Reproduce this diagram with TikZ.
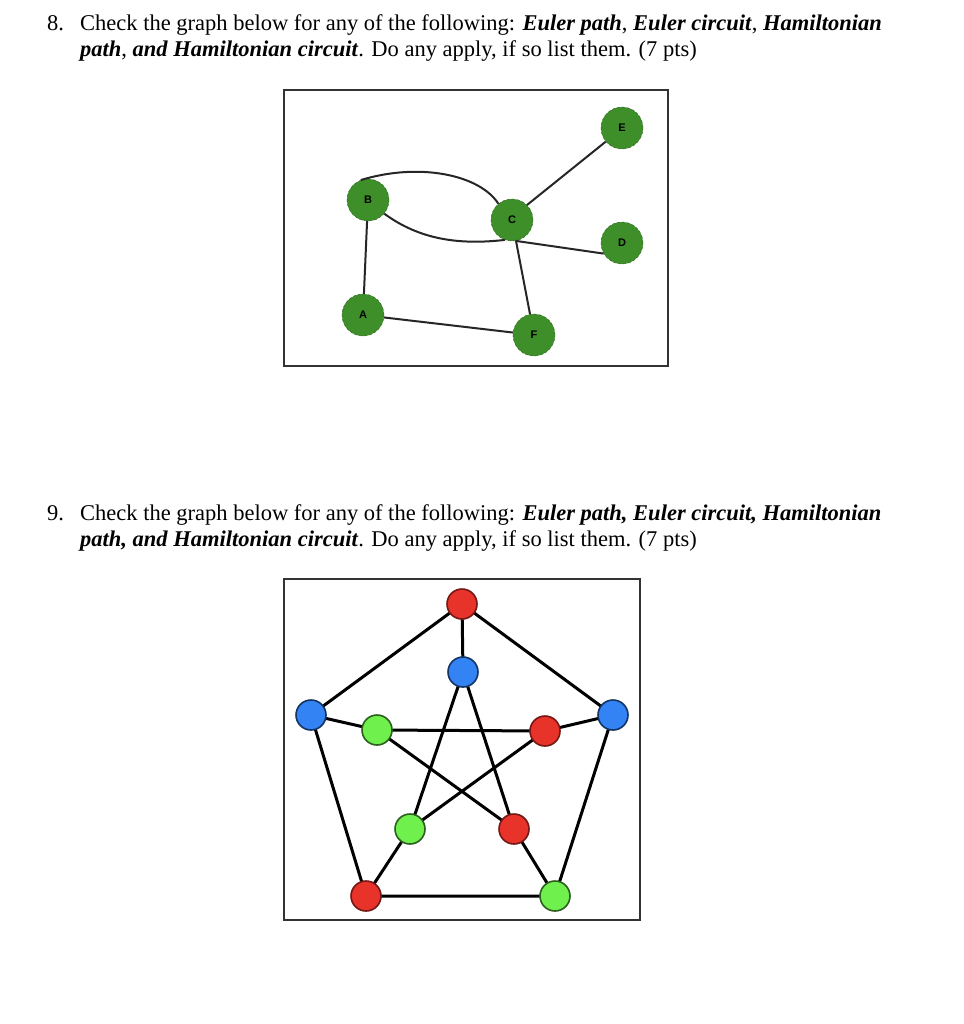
\documentclass[tikz,border=0pt]{standalone}
\usepackage{fontspec}
\setmainfont{Liberation Serif}
\newfontfamily\nodefont{Liberation Sans}
\definecolor{gr}{HTML}{3E8E2A}
\definecolor{pr}{HTML}{E8332A}
\definecolor{pb}{HTML}{3383F5}
\definecolor{pg}{HTML}{70F04C}
\begin{document}
\begin{tikzpicture}[x=1pt,y=-1pt,
  gnode/.style={circle,fill=gr,draw=gr!70!black,densely dashed,thin,minimum size=42pt,inner sep=0pt,font=\nodefont\bfseries\fontsize{11}{11}\selectfont},
  gedge/.style={line width=2pt,black!85},
  pnode/.style={circle,minimum size=30pt,inner sep=0pt,line width=1.6pt},
  red/.style={pnode,fill=pr,draw=pr!50!black},
  blue/.style={pnode,fill=pb,draw=pb!40!black},
  green/.style={pnode,fill=pg,draw=pg!40!black},
  pedge/.style={line width=3pt},
  txt/.style={anchor=base west,inner sep=0pt,font=\fontsize{22.5}{22.5}\selectfont}]
\useasboundingbox (0,0) rectangle (963,1024);
\fill[white] (0,0) rectangle (963,1024);
% Question 8
\node[txt] (n8) at (47,31) {8.};
\node[txt] (q8a) at (80,31) {Check the graph below for any of the following: \textbf{\textit{Euler path}}, \textbf{\textit{Euler circuit}}, \textbf{\textit{Hamiltonian}}};
\node[txt] (q8b) at (80,57) {\textbf{\textit{path}}, \textbf{\textit{and Hamiltonian circuit}}. Do any apply, if so list them. (7 pts)};
\draw[line width=1.4pt,black!80] (284,90) rectangle (668,366);
\node[gnode] (E) at (622,128) {E};
\node[gnode] (B) at (368,200) {B};
\node[gnode] (C) at (512,220) {C};
\node[gnode] (D) at (622,243) {D};
\node[gnode] (A) at (363,315) {A};
\node[gnode] (F) at (534,335) {F};
\draw[gedge] (B.110) .. controls (420,162) and (480,175) .. (C.130);
\draw[gedge] (B.-40) .. controls (420,240) and (460,245) .. (C.-110);
\draw[gedge] (C.45) -- (E.-140);
\draw[gedge] (C.-80) -- (D.-150);
\draw[gedge] (C) -- (F);
\draw[gedge] (B) -- (A);
\draw[gedge] (A) -- (F);
% Question 9
\node[txt] (n9) at (47,520) {9.};
\node[txt] (q9a) at (80,520) {Check the graph below for any of the following: \textbf{\textit{Euler path, Euler circuit, Hamiltonian}}};
\node[txt] (q9b) at (80,546) {\textbf{\textit{path, and Hamiltonian circuit}}. Do any apply, if so list them. (7 pts)};
\draw[line width=1.4pt,black!80] (284,579) rectangle (640,920);
\coordinate (o1) at (462,604);
\coordinate (i1) at (463,672);
\coordinate (o2) at (311,715);
\coordinate (o3) at (613,715);
\coordinate (i2) at (377,730);
\coordinate (i3) at (545,731);
\coordinate (i4) at (410,829);
\coordinate (i5) at (514,829);
\coordinate (o4) at (366,896);
\coordinate (o5) at (555,896);
\draw[pedge] (o1)--(o2)--(o4)--(o5)--(o3)--(o1);
\draw[pedge] (o1)--(i1) (o2)--(i2) (o3)--(i3) (o4)--(i4) (o5)--(i5);
\draw[pedge] (i1)--(i4) (i1)--(i5) (i2)--(i3) (i2)--(i5) (i3)--(i4);
\node[red] (P1) at (o1) {};
\node[blue] (P2) at (i1) {};
\node[blue] (P3) at (o2) {};
\node[blue] (P4) at (o3) {};
\node[green] (P5) at (i2) {};
\node[red] (P6) at (i3) {};
\node[green] (P7) at (i4) {};
\node[red] (P8) at (i5) {};
\node[red] (P9) at (o4) {};
\node[green] (P10) at (o5) {};
\end{tikzpicture}
\end{document}
